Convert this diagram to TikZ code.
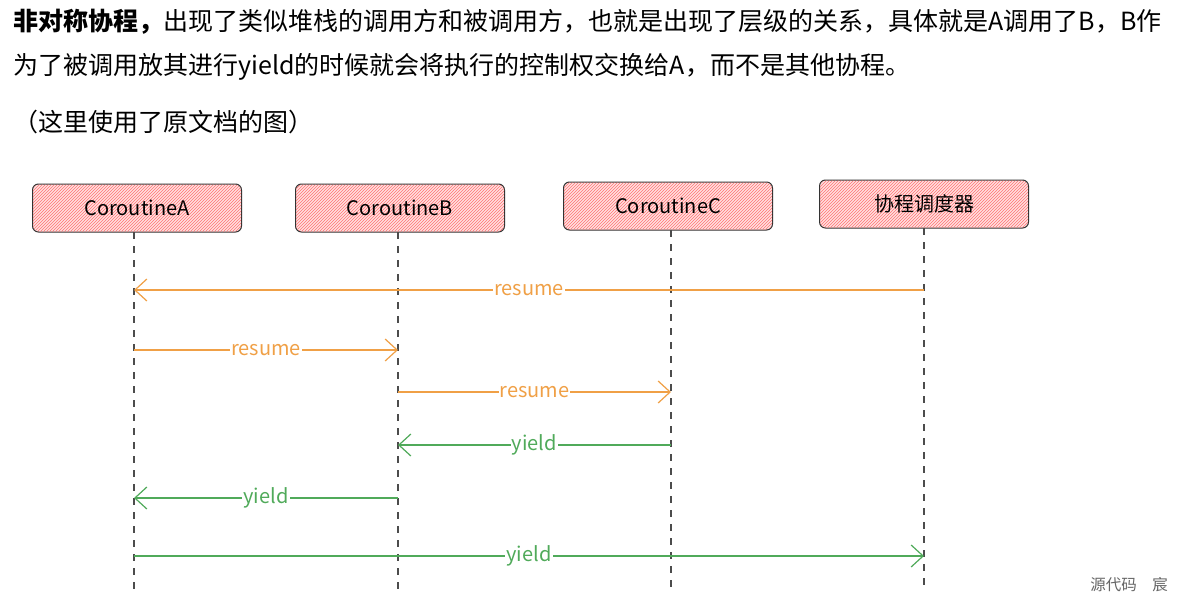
\documentclass[tikz,border=0pt]{standalone}
\usepackage{fontspec}
\setmainfont{Noto Sans CJK SC}
\usetikzlibrary{patterns,arrows.meta,calc}
\definecolor{org}{RGB}{240,160,70}
\definecolor{grn}{RGB}{80,170,90}
\begin{document}
\begin{tikzpicture}[x=1pt,y=-1pt,
  box/.style={draw=black!80,line width=1pt,rounded corners=6pt,minimum width=209pt,minimum height=48pt,fill=red!12},
  life/.style={draw=black!70,line width=1.2pt,dash pattern=on 7pt off 7pt},
  msg/.style={line width=1.5pt,-{Straight Barb[length=12pt,width=22pt,line width=1.2pt]}},
  res/.style={msg,draw=org,text=org},
  yld/.style={msg,draw=grn,text=grn},
  lab/.style={fill=white,inner sep=1pt,font=\fontsize{20}{22}\selectfont},
  para/.style={anchor=west,font=\fontsize{25}{28}\selectfont}]
\useasboundingbox (0,0) rectangle (1181,605);
\fill[white] (0,0) rectangle (1181,605);
\node[para] (t1) at (10,22) {{\bfseries 非对称协程，}出现了类似堆栈的调用方和被调用方，也就是出现了层级的关系，具体就是A调用了B，B作};
\node[para] (t2) at (10,67) {为了被调用放其进行yield的时候就会将执行的控制权交换给A，而不是其他协程。};
\node[para] (t3) at (10,122) {（这里使用了原文档的图）};
\foreach \n/\x/\y/\t in {A/137/208/CoroutineA,B/400/208/CoroutineB,C/668/206/CoroutineC,D/924/204/协程调度器}{
  \node[box] (\n) at (\x,\y) {};
  \fill[pattern=north east lines,pattern color=red!55,rounded corners=6pt] ($(\n.south west)+(1,-1)$) rectangle ($(\n.north east)+(-1,1)$);
  \node[font=\fontsize{20}{22}\selectfont] (\n t) at (\x,\y) {\t};
}
\foreach \n/\x in {A/134,B/398,C/671,D/924}{
  \coordinate (\n e) at (\x,592);
  \coordinate (\n1) at (\x,290); \coordinate (\n2) at (\x,350); \coordinate (\n3) at (\x,392);
  \coordinate (\n4) at (\x,445); \coordinate (\n5) at (\x,498); \coordinate (\n6) at (\x,556);
}
\draw[life] (134,232) -- (Ae); \draw[life] (398,232) -- (Be);
\draw[life] (671,230) -- (Ce); \draw[life] (924,228) -- (De);
\draw[res] (D1) -- node[lab,pos=0.5] (l1) {resume} (A1);
\draw[res] (A2) -- node[lab] (l2) {resume} (B2);
\draw[res] (B3) -- node[lab] (l3) {resume} (C3);
\draw[yld] (C4) -- node[lab,pos=0.5] (l4) {yield} (B4);
\draw[yld] (B5) -- node[lab] (l5) {yield} (A5);
\draw[yld] (A6) -- node[lab] (l6) {yield} (D6);
\node[text=black!60,font=\fontsize{15.5}{17}\selectfont] (wm) at (1129,585) {源代码\quad 宸};
\end{tikzpicture}
\end{document}
